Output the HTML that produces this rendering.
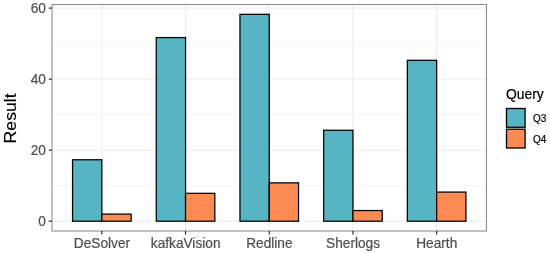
<!DOCTYPE html>
<html><head><meta charset="utf-8"><title>Chart</title>
<style>html,body{margin:0;padding:0;background:#fff}body{width:550px;height:253px;overflow:hidden}</style>
</head><body>
<svg width="550" height="253" viewBox="0 0 550 253" style="display:block;font-family:'Liberation Sans',sans-serif">
<rect width="550" height="253" fill="#fff"/>
<line x1="51.9" x2="486.4" y1="185.68" y2="185.68" stroke="#ebebeb" stroke-width="0.5"/>
<line x1="51.9" x2="486.4" y1="114.65" y2="114.65" stroke="#ebebeb" stroke-width="0.5"/>
<line x1="51.9" x2="486.4" y1="43.62" y2="43.62" stroke="#ebebeb" stroke-width="0.5"/>
<line x1="51.9" x2="486.4" y1="221.20" y2="221.20" stroke="#ebebeb" stroke-width="1"/>
<line x1="51.9" x2="486.4" y1="150.17" y2="150.17" stroke="#ebebeb" stroke-width="1"/>
<line x1="51.9" x2="486.4" y1="79.13" y2="79.13" stroke="#ebebeb" stroke-width="1"/>
<line x1="51.9" x2="486.4" y1="8.10" y2="8.10" stroke="#ebebeb" stroke-width="1"/>
<line x1="101.85" x2="101.85" y1="4.5" y2="231.0" stroke="#ebebeb" stroke-width="1"/>
<line x1="185.55" x2="185.55" y1="4.5" y2="231.0" stroke="#ebebeb" stroke-width="1"/>
<line x1="269.25" x2="269.25" y1="4.5" y2="231.0" stroke="#ebebeb" stroke-width="1"/>
<line x1="352.95" x2="352.95" y1="4.5" y2="231.0" stroke="#ebebeb" stroke-width="1"/>
<line x1="436.65" x2="436.65" y1="4.5" y2="231.0" stroke="#ebebeb" stroke-width="1"/>
<rect x="72.55" y="159.76" width="29.29" height="61.44" fill="#57b4c3" stroke="#000" stroke-width="1.25" stroke-linejoin="miter"/>
<rect x="101.85" y="214.10" width="29.29" height="7.10" fill="#fb8a53" stroke="#000" stroke-width="1.25" stroke-linejoin="miter"/>
<rect x="156.26" y="37.58" width="29.29" height="183.62" fill="#57b4c3" stroke="#000" stroke-width="1.25" stroke-linejoin="miter"/>
<rect x="185.55" y="193.32" width="29.29" height="27.88" fill="#fb8a53" stroke="#000" stroke-width="1.25" stroke-linejoin="miter"/>
<rect x="239.96" y="14.32" width="29.29" height="206.88" fill="#57b4c3" stroke="#000" stroke-width="1.25" stroke-linejoin="miter"/>
<rect x="269.25" y="182.84" width="29.29" height="38.36" fill="#fb8a53" stroke="#000" stroke-width="1.25" stroke-linejoin="miter"/>
<rect x="323.66" y="130.28" width="29.29" height="90.92" fill="#57b4c3" stroke="#000" stroke-width="1.25" stroke-linejoin="miter"/>
<rect x="352.95" y="210.54" width="29.29" height="10.66" fill="#fb8a53" stroke="#000" stroke-width="1.25" stroke-linejoin="miter"/>
<rect x="407.35" y="60.31" width="29.29" height="160.89" fill="#57b4c3" stroke="#000" stroke-width="1.25" stroke-linejoin="miter"/>
<rect x="436.65" y="192.08" width="29.29" height="29.12" fill="#fb8a53" stroke="#000" stroke-width="1.25" stroke-linejoin="miter"/>
<rect x="52.0" y="4.5" width="434.4" height="226.5" fill="none" stroke="#898989" stroke-width="1.05"/>
<line x1="48.80" x2="51.9" y1="221.20" y2="221.20" stroke="#333" stroke-width="1.25"/>
<text transform="translate(45.90,226.10) scale(0.985,1)" font-size="13.9" fill="#4d4d4d" stroke="#4d4d4d" stroke-width="0.2" text-anchor="end">0</text>
<line x1="48.80" x2="51.9" y1="150.17" y2="150.17" stroke="#333" stroke-width="1.25"/>
<text transform="translate(45.90,155.07) scale(0.985,1)" font-size="13.9" fill="#4d4d4d" stroke="#4d4d4d" stroke-width="0.2" text-anchor="end">20</text>
<line x1="48.80" x2="51.9" y1="79.13" y2="79.13" stroke="#333" stroke-width="1.25"/>
<text transform="translate(45.90,84.03) scale(0.985,1)" font-size="13.9" fill="#4d4d4d" stroke="#4d4d4d" stroke-width="0.2" text-anchor="end">40</text>
<line x1="48.80" x2="51.9" y1="8.10" y2="8.10" stroke="#333" stroke-width="1.25"/>
<text transform="translate(45.90,13.00) scale(0.985,1)" font-size="13.9" fill="#4d4d4d" stroke="#4d4d4d" stroke-width="0.2" text-anchor="end">60</text>
<line x1="101.85" x2="101.85" y1="231.0" y2="234.60" stroke="#333" stroke-width="1.25"/>
<text transform="translate(101.95,247.80) scale(0.985,1)" font-size="13.9" fill="#4d4d4d" stroke="#4d4d4d" stroke-width="0.2" text-anchor="middle">DeSolver</text>
<line x1="185.55" x2="185.55" y1="231.0" y2="234.60" stroke="#333" stroke-width="1.25"/>
<text transform="translate(185.65,247.80) scale(0.985,1)" font-size="13.9" fill="#4d4d4d" stroke="#4d4d4d" stroke-width="0.2" text-anchor="middle">kafkaVision</text>
<line x1="269.25" x2="269.25" y1="231.0" y2="234.60" stroke="#333" stroke-width="1.25"/>
<text transform="translate(269.35,247.80) scale(0.985,1)" font-size="13.9" fill="#4d4d4d" stroke="#4d4d4d" stroke-width="0.2" text-anchor="middle">Redline</text>
<line x1="352.95" x2="352.95" y1="231.0" y2="234.60" stroke="#333" stroke-width="1.25"/>
<text transform="translate(353.05,247.80) scale(0.985,1)" font-size="13.9" fill="#4d4d4d" stroke="#4d4d4d" stroke-width="0.2" text-anchor="middle">Sherlogs</text>
<line x1="436.65" x2="436.65" y1="231.0" y2="234.60" stroke="#333" stroke-width="1.25"/>
<text transform="translate(436.75,247.80) scale(0.985,1)" font-size="13.9" fill="#4d4d4d" stroke="#4d4d4d" stroke-width="0.2" text-anchor="middle">Hearth</text>
<text transform="translate(15.90,118.40) rotate(-90) scale(1.05,1)" font-size="16.8" fill="#000" stroke="#000" stroke-width="0.15" text-anchor="middle">Result</text>
<text transform="translate(505.90,99.20)" font-size="13.9" fill="#000" stroke="#000" stroke-width="0.2" text-anchor="start">Query</text>
<rect x="506.5" y="108.5" width="18.6" height="18.8" fill="#57b4c3" stroke="#000" stroke-width="1.3"/>
<rect x="506.5" y="129.2" width="18.6" height="18.8" fill="#fb8a53" stroke="#000" stroke-width="1.3"/>
<text transform="translate(533.00,122.10)" font-size="10.0" fill="#000" stroke="#000" stroke-width="0.2" text-anchor="start">Q3</text>
<text transform="translate(533.00,142.80)" font-size="10.0" fill="#000" stroke="#000" stroke-width="0.2" text-anchor="start">Q4</text>
</svg>
</body></html>
